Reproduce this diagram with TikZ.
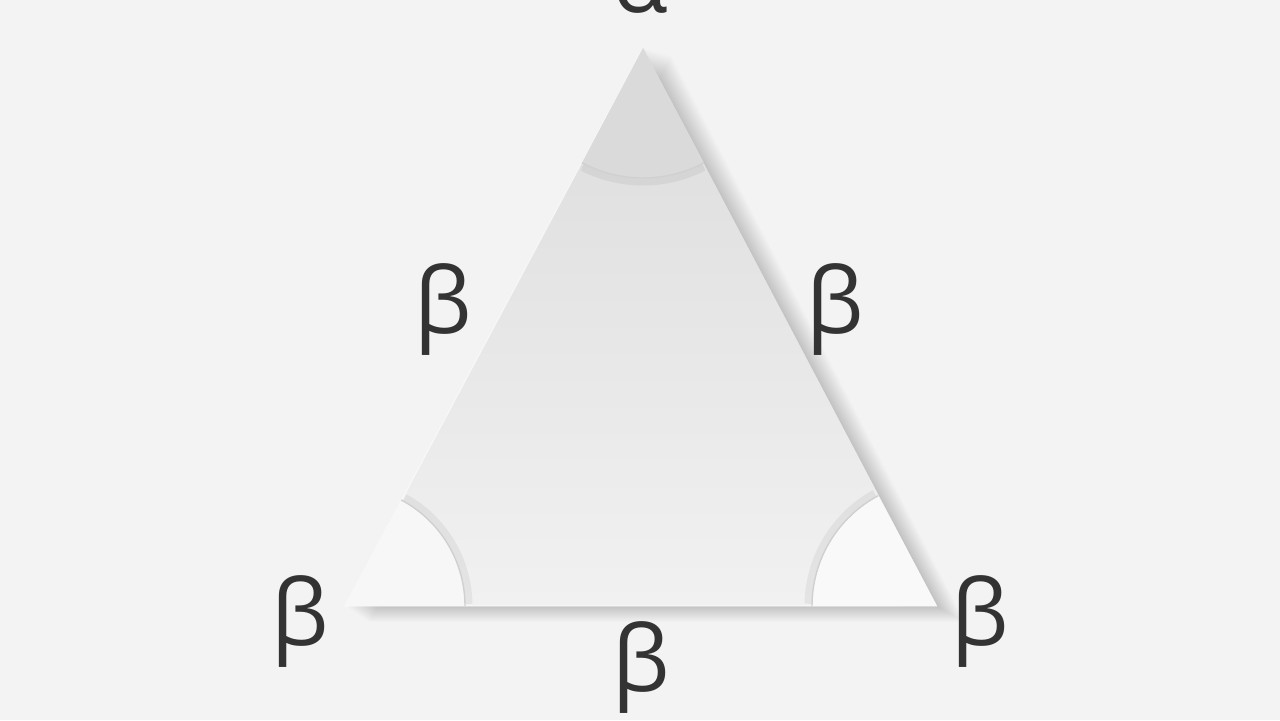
\documentclass[tikz,border=0pt]{standalone}
\usepackage{fontspec}
\setmainfont{Open Sans}
\usetikzlibrary{positioning,calc}
\definecolor{paper}{RGB}{243,243,243}
\definecolor{ink}{RGB}{51,51,51}
\definecolor{facetop}{RGB}{220,220,220}
\definecolor{facebottom}{RGB}{241,241,241}
\definecolor{arcline}{RGB}{208,208,208}

\begin{document}
\begin{tikzpicture}[node distance =1cm and 1cm ,
greek/.style ={text=ink ,inner sep=0pt ,anchor=center ,font=\fontsize{52}{60}\selectfont},
sector/.style ={fill=#1},
rim/.style ={draw=arcline ,line width=0.8pt},
rimshade/.style ={draw=black ,opacity=0.05 ,line width=4pt}]
\useasboundingbox (0,0) rectangle (25.6,14.4);
\clip (0,0) rectangle (25.6,14.4);
\fill[paper] (0,0) rectangle (25.6,14.4);
% corners of the triangle
\coordinate (T) at (12.86,13.44);
\coordinate (L) at (6.9,2.28);
\coordinate (R) at (18.74,2.28);
\coordinate (TL) at ($(T)!0.5!(L)$);
\coordinate (TR) at ($(T)!0.5!(R)$);
\coordinate (LR) at ($(L)!0.5!(R)$);
% soft shadow
\foreach \s in {1,...,16}
  \fill[black ,opacity=0.013] ($(T)+(\s*0.035,-\s*0.01)$) -- ($(L)+(\s*0.03,-\s*0.02)$)
    -- ($(R)+(\s*0.035,-\s*0.02)$) -- cycle;
\path[top color=facetop ,bottom color=facebottom] (T) -- (L) -- (R) -- cycle;
\draw[white ,opacity=0.6 ,line width=0.6pt] (T) -- (L) -- (R);
% angle marks
\fill[sector=facetop!99!black] (T) -- ++(242:2.6) arc[start angle=242 ,end angle=298 ,radius=2.6] -- cycle;
\draw[rimshade] ($(T)+(243:2.68)$) arc[start angle=243 ,end angle=297 ,radius=2.68];
\draw[rim] ($(T)+(242:2.6)$) arc[start angle=242 ,end angle=298 ,radius=2.6];
\fill[sector=facebottom!60!white] (L) -- ++(0:2.4) arc[start angle=0 ,end angle=62 ,radius=2.4] -- cycle;
\draw[rimshade] ($(L)+(1:2.48)$) arc[start angle=1 ,end angle=61 ,radius=2.48];
\draw[rim] ($(L)+(0:2.4)$) arc[start angle=0 ,end angle=62 ,radius=2.4];
\fill[sector=facebottom!40!white] (R) -- ++(118:2.5) arc[start angle=118 ,end angle=180 ,radius=2.5] -- cycle;
\draw[rimshade] ($(R)+(119:2.58)$) arc[start angle=119 ,end angle=179 ,radius=2.58];
\draw[rim] ($(R)+(118:2.5)$) arc[start angle=118 ,end angle=180 ,radius=2.5];
% labels
\node[greek] (alpha) at ($(T)+(-0.06,1.2)$) {α};
\node[greek] (bL) at ($(L)+(-0.9,-0.32)$) {β};
\node[greek] (bR) at ($(R)+(0.86,-0.32)$) {β};
\node[greek] (bB) at ($(LR)+(0,-1.24)$) {β};
\node[greek] (bTL) at ($(TL)+(-1.02,0.34)$) {β};
\node[greek] (bTR) at ($(TR)+(0.9,0.34)$) {β};
\end{tikzpicture}
\end{document}
